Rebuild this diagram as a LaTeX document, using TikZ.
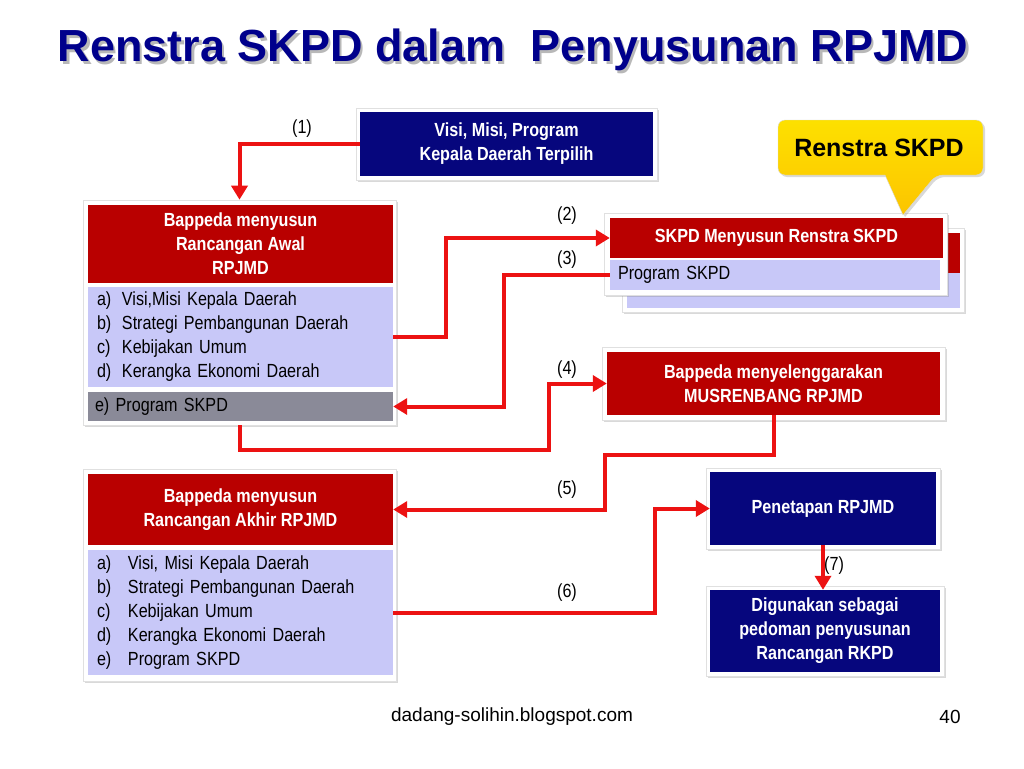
\documentclass[tikz,border=0pt]{standalone}
\usepackage{fontspec}
\setmainfont{Liberation Sans}
\newfontfamily\narrowfont[FakeStretch=0.85]{Liberation Sans}
\usepackage{tikz}
\usetikzlibrary{arrows.meta,shadows,calc,positioning}

\definecolor{boxnavy}{RGB}{6,6,125}
\definecolor{headred}{RGB}{185,0,0}
\definecolor{listblue}{RGB}{200,200,248}
\definecolor{progray}{RGB}{138,138,152}
\definecolor{flowred}{RGB}{236,18,18}
\definecolor{titleblue}{RGB}{0,0,140}
\definecolor{calloutyellow}{RGB}{252,204,0}

\tikzset{
  frame/.style={fill=white, draw=black!12, line width=0.6pt, inner sep=0pt,
    drop shadow={opacity=0.3, shadow xshift=2pt, shadow yshift=-2pt}},
  headbox/.style={fill=headred, text=white, inner sep=0pt, align=center,
    font=\narrowfont\bfseries\fontsize{19}{24}\selectfont},
  navybox/.style={fill=boxnavy, text=white, inner sep=0pt, align=center,
    font=\narrowfont\bfseries\fontsize{19}{24}\selectfont},
  listbox/.style={fill=listblue, inner xsep=9pt, inner ysep=0pt, align=left,
    font=\narrowfont\fontsize{19}{24}\selectfont},
  flow/.style={draw=flowred, line width=4pt, -{Triangle[length=14pt,width=16pt]}},
  numlabel/.style={font=\narrowfont\fontsize{19}{22}\selectfont},
}

\begin{document}
\begin{tikzpicture}[x=1pt, y=-1pt]
\useasboundingbox (0,0) rectangle (1024,768);

% title
\node[text=black!28, font=\bfseries\fontsize{45}{50}\selectfont, anchor=base] (titleShadow) at (515.5,64.5) {Renstra SKPD dalam\ \ Penyusunan RPJMD};
\node[text=titleblue, font=\bfseries\fontsize{45}{50}\selectfont, anchor=base] (title) at (513,62) {Renstra SKPD dalam\ \ Penyusunan RPJMD};

% visi misi
\node[frame, minimum width=301pt, minimum height=72pt] (fVisi) at (506.5,144) {};
\node[navybox, minimum width=293pt, minimum height=64pt] (hVisi) at (506.5,144) {Visi, Misi, Program\\Kepala Daerah Terpilih};

% rancangan awal
\node[frame, minimum width=313pt, minimum height=225pt] (fA) at (239.5,312.5) {};
\node[headbox, minimum width=305pt, minimum height=78pt] (hA) at (240.5,244) {Bappeda menyusun\\Rancangan Awal\\RPJMD};
\node[listbox, text width=287pt, minimum height=100pt] (lA) at (240.5,337)
  {\makebox[25pt][l]{a)}Visi,Misi Kepala Daerah\\\makebox[25pt][l]{b)}Strategi Pembangunan Daerah\\\makebox[25pt][l]{c)}Kebijakan Umum\\\makebox[25pt][l]{d)}Kerangka Ekonomi Daerah};
\node[listbox, fill=progray, inner xsep=7pt, text width=291pt, minimum height=29pt] (gA) at (240.5,406.5) {e) Program SKPD};

% renstra skpd (two sheets)
\node[frame, minimum width=342pt, minimum height=84pt] (fB2) at (793,270) {};
\node[headbox, minimum width=333pt, minimum height=40pt] (hB2) at (793.5,253) {};
\node[listbox, minimum width=333pt, minimum height=35pt] (lB2) at (793.5,290.5) {};
\node[frame, minimum width=343pt, minimum height=82pt] (fB) at (775.5,254) {};
\node[headbox, minimum width=333pt, minimum height=40pt] (hB) at (776.5,238) {SKPD Menyusun Renstra SKPD};
\node[listbox, inner xsep=8pt, text width=314pt, minimum height=30pt] (lB) at (775,275) {Program SKPD};

% callout
\path[draw=black!15, top color=calloutyellow!60!yellow, bottom color=calloutyellow!90!orange,
  drop shadow={opacity=0.3, shadow xshift=2pt, shadow yshift=-2pt}]
  [rounded corners=7pt] (778,120) -- (983,120) -- (983,175) -- (936,175) [sharp corners] -- (903,215) -- (885,175) [rounded corners=7pt] -- (778,175) -- cycle;
\node[font=\bfseries\fontsize{25}{28}\selectfont] (callout) at (879,148) {Renstra SKPD};

% musrenbang
\node[frame, minimum width=343pt, minimum height=73pt] (fC) at (773.5,383.5) {};
\node[headbox, minimum width=333pt, minimum height=63pt] (hC) at (773.5,383.5) {Bappeda menyelenggarakan\\MUSRENBANG RPJMD};

% rancangan akhir
\node[frame, minimum width=313pt, minimum height=212pt] (fD) at (239.5,575) {};
\node[headbox, minimum width=305pt, minimum height=71pt] (hD) at (240.5,509.5) {Bappeda menyusun\\Rancangan Akhir RPJMD};
\node[listbox, text width=287pt, minimum height=125pt] (lD) at (240.5,612.5)
  {\makebox[31pt][l]{a)}Visi, Misi Kepala Daerah\\\makebox[31pt][l]{b)}Strategi Pembangunan Daerah\\\makebox[31pt][l]{c)}Kebijakan Umum\\\makebox[31pt][l]{d)}Kerangka Ekonomi Daerah\\\makebox[31pt][l]{e)}Program SKPD};

% penetapan
\node[frame, minimum width=234pt, minimum height=81pt] (fE) at (823,508.5) {};
\node[navybox, minimum width=226pt, minimum height=73pt] (hE) at (823,508.5) {Penetapan RPJMD};
\node[frame, minimum width=238pt, minimum height=90pt] (fF) at (825,631) {};
\node[navybox, minimum width=230pt, minimum height=82pt] (hF) at (825,631) {Digunakan sebagai\\pedoman penyusunan\\Rancangan RKPD};

% connectors
\draw[flow] (hVisi.west) -| (fA.north);
\draw[flow] (lA.east) -- ++(53,0) |- (hB.west);
\draw[flow] (lB.west) -- ++(-106,0) |- (gA.east);
\draw[flow] (fA.south) -- ++(0,25) -- ++(309,0) |- (hC.west);
\draw[flow] (hC.south) -- ++(0,40) -- ++(-168.5,0) |- (hD.east);
\draw[flow] (lD.east) -- ++(262,0) |- (hE.west);
\draw[flow] (hE.south) -- (hE.south |- hF.north);

\node[numlabel] (n1) at (302,129) {(1)};
\node[numlabel] (n2) at (567,216) {(2)};
\node[numlabel] (n3) at (567,260) {(3)};
\node[numlabel] (n4) at (567,370) {(4)};
\node[numlabel] (n5) at (567,490) {(5)};
\node[numlabel] (n6) at (567,593) {(6)};
\node[numlabel] (n7) at (834,566) {(7)};

% footer
\node[font=\fontsize{19}{22}\selectfont] (site) at (512,717) {dadang-solihin.blogspot.com};
\node[font=\fontsize{19}{22}\selectfont] (page) at (950,717) {40};
\end{tikzpicture}
\end{document}
